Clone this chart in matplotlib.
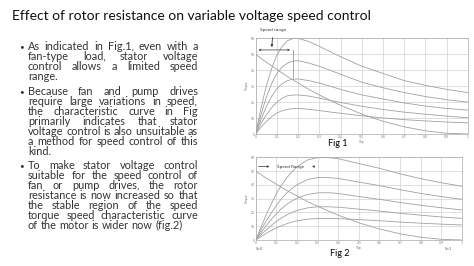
import matplotlib
matplotlib.use("Agg")
import matplotlib.pyplot as plt

W, H = 474, 266
FONT = "Lato"

slip = [0, 0.0125, 0.025, 0.0375, 0.05, 0.075, 0.1, 0.125, 0.15, 0.175, 0.2, 0.25, 0.3, 0.35, 0.4, 0.5,
        0.6, 0.7, 0.8, 0.9, 1.0]

# Fig 1: torque-slip curves at reduced stator voltages, normal rotor resistance
fig1_curves = [
    [0, 0.82, 1.6, 2.33, 3.0, 4.1, 4.95, 5.5, 5.85, 5.98, 6.0, 5.8, 5.5, 5.17, 4.85, 4.25,
     3.8, 3.35, 3.05, 2.8, 2.6],
    [0, 0.62, 1.2, 1.77, 2.3, 3.15, 3.8, 4.2, 4.45, 4.57, 4.6, 4.45, 4.25, 4.0, 3.75, 3.25,
     2.9, 2.6, 2.35, 2.15, 2.0],
    [0, 0.46, 0.9, 1.32, 1.7, 2.35, 2.85, 3.15, 3.35, 3.43, 3.45, 3.35, 3.2, 3.0, 2.8, 2.45,
     2.2, 1.95, 1.75, 1.6, 1.5],
    [0, 0.33, 0.65, 0.94, 1.2, 1.65, 2.0, 2.24, 2.4, 2.44, 2.45, 2.38, 2.25, 2.11, 1.98, 1.74,
     1.54, 1.37, 1.24, 1.12, 1.02],
    [0, 0.21, 0.42, 0.61, 0.78, 1.08, 1.32, 1.46, 1.55, 1.59, 1.6, 1.55, 1.47, 1.38, 1.3, 1.14,
     1.01, 0.9, 0.82, 0.75, 0.7],
]
# Fig 2: same voltages, increased rotor resistance
fig2_curves = [
    [0, 0.45, 0.9, 1.35, 1.8, 2.6, 3.35, 3.98, 4.5, 4.95, 5.3, 5.8, 5.97, 5.98, 5.9, 5.55,
     5.2, 4.8, 4.45, 4.15, 3.9],
    [0, 0.35, 0.7, 1.03, 1.35, 1.95, 2.5, 3.0, 3.4, 3.73, 4.0, 4.38, 4.53, 4.53, 4.47, 4.2,
     3.95, 3.65, 3.38, 3.15, 2.95],
    [0, 0.26, 0.52, 0.77, 1.02, 1.48, 1.9, 2.27, 2.58, 2.83, 3.03, 3.3, 3.42, 3.43, 3.38, 3.15,
     2.95, 2.72, 2.52, 2.34, 2.18],
    [0, 0.18, 0.37, 0.55, 0.72, 1.04, 1.34, 1.6, 1.82, 2.0, 2.14, 2.33, 2.41, 2.41, 2.38, 2.24,
     2.1, 1.94, 1.8, 1.67, 1.57],
    [0, 0.12, 0.24, 0.36, 0.47, 0.68, 0.87, 1.04, 1.18, 1.3, 1.39, 1.51, 1.56, 1.57, 1.55, 1.48,
     1.4, 1.3, 1.22, 1.15, 1.09],
]
# fan-type load torque
load = [5.0, 4.87, 4.75, 4.62, 4.5, 4.28, 4.05, 3.82, 3.6, 3.4, 3.2, 2.8, 2.45, 2.12, 1.8, 1.25,
        0.8, 0.45, 0.2, 0.05, 0.0]

x_ticks = [0, 0.1, 0.2, 0.3, 0.4, 0.5, 0.6, 0.7, 0.8, 0.9, 1]
x_labels = ["0", "0.1", "0.2", "0.3", "0.4", "0.5", "0.6", "0.7", "0.8", "0.9", "1"]
y_ticks = [0, 1, 2, 3, 4, 5, 6]
y_labels = ["0", "10", "20", "30", "40", "50", "60"]

range1 = [0, 0.175]
range1_level = 5.27
range1_load = 3.5
range2 = [0, 0.3]
range2_level = 5.33

title = "Effect of rotor resistance on variable voltage speed control"
bullets = [
    ["As indicated in Fig.1, even with a",
     "fan-type load, stator voltage",
     "control allows a limited speed",
     "range."],
    ["Because fan and pump drives",
     "require large variations in speed,",
     "the characteristic curve in Fig",
     "primarily indicates that stator",
     "voltage control is also unsuitable as",
     "a method for speed control of this",
     "kind."],
    ["To make stator voltage control",
     "suitable for the speed control of",
     "fan or pump drives, the rotor",
     "resistance is now increased so that",
     "the stable region of the speed",
     "torque speed characteristic curve",
     "of the motor is wider now  (fig.2)"],
]
bullet_tops = [46.7, 91.7, 165.7]


def px(x, y):
    return x / W, 1 - y / H


def torque_axes(rect, curves):
    ax = fig.add_axes(rect)
    for c in curves:
        ax.plot(slip, c, color="#a0a0a0", lw=0.6)
    ax.plot(slip, load, color="#a0a0a0", lw=0.6)
    ax.set_xlim(0, 1)
    ax.set_ylim(0, 6)
    ax.set_xticks(x_ticks, x_labels)
    ax.set_yticks(y_ticks, y_labels)
    ax.tick_params(labelsize=2.2, length=0, pad=1, colors="#777777")
    ax.grid(True, color="#d2d2d2", lw=0.5)
    for s in ax.spines.values():
        s.set_color("#aaaaaa")
        s.set_linewidth(0.5)
    ax.set_xlabel("Slip", fontsize=2.2, labelpad=0.2, color="#777777")
    ax.set_ylabel("Torque", fontsize=2.2, labelpad=1, color="#777777")
    return ax


fig = plt.figure(figsize=(W / 100, H / 100), dpi=100)
fig.patch.set_facecolor("white")
renderer = fig.canvas.get_renderer()


def text_width(s, size):
    t = fig.text(0, 0, s, fontsize=size, family=FONT)
    bb = t.get_window_extent(renderer)
    t.remove()
    return bb.width


# fit title to the width it takes in the slide
tfs = 10.0 * 358.0 / text_width(title, 10.0)
fig.text(*px(11.5, 15.5), title, fontsize=tfs, family=FONT, va="center", ha="left", color="#111111")

# justified bullet text, font sized so the tightest line just fits
left, right = 28.0, 198.0
widest = max(text_width(l, 10.0) for p in bullets for l in p[:-1])
fs = 10.0 * (right - left) / widest * 0.99

for para, y0 in zip(bullets, bullet_tops):
    fig.text(*px(19.5, y0), "\u2022", fontsize=fs * 0.75, family=FONT, va="center", color="#333333")
    for i, line in enumerate(para):
        y = y0 + 10.0 * i + 3.2  # baseline
        words = line.split()
        widths = [text_width(w, fs) for w in words]
        last = i == len(para) - 1
        if last or len(words) == 1:
            gap = text_width("a b", fs) - text_width("ab", fs)
        else:
            gap = (right - left - sum(widths)) / (len(words) - 1)
        x = left
        for w, wd in zip(words, widths):
            fig.text(*px(x, y), w, fontsize=fs, family=FONT, va="baseline", ha="left", color="#333333")
            x += wd + gap

# Fig 1
ax1 = torque_axes([255.7 / W, 1 - 134 / H, 212 / W, 95.7 / H], fig1_curves)
ax1.annotate("", xy=(range1[0], range1_level), xytext=(range1[1], range1_level),
             arrowprops=dict(arrowstyle="<->", color="#333333", lw=0.5, mutation_scale=3))
ax1.plot([range1[1], range1[1]], [range1_level, range1_load], color="#9a9a9a", lw=0.6)
ax1.annotate("Speed range", xy=(0.075, range1_level), xytext=(0.02, 6.45),
             fontsize=3, color="#333333", annotation_clip=False,
             arrowprops=dict(arrowstyle="-|>", color="#333333", lw=0.6, mutation_scale=3))
fig.text(*px(337.5, 143), "Fig 1", fontsize=6.5, family=FONT, ha="center", va="center")

# Fig 2
ax2 = torque_axes([255.7 / W, 1 - 240 / H, 206.3 / W, 82.7 / H], fig2_curves)
ax2.annotate("", xy=(range2[0], range2_level), xytext=(0.08, range2_level),
             arrowprops=dict(arrowstyle="<-", color="#333333", lw=0.5, mutation_scale=3))
ax2.annotate("", xy=(range2[1], range2_level), xytext=(0.26, range2_level),
             arrowprops=dict(arrowstyle="<-", color="#333333", lw=0.5, mutation_scale=3))
ax2.text(0.17, range2_level, "Speed Range", fontsize=3, ha="center", va="center", color="#333333")
fig.text(*px(259, 249.5), "S=0", fontsize=2.5, ha="center", va="center", color="#555555")
fig.text(*px(448, 249.5), "S=1", fontsize=2.5, ha="center", va="center", color="#555555")
fig.text(*px(340, 253), "Fig 2", fontsize=6.5, family=FONT, ha="center", va="center")

fig.savefig("out.png", dpi=100, facecolor="white")
